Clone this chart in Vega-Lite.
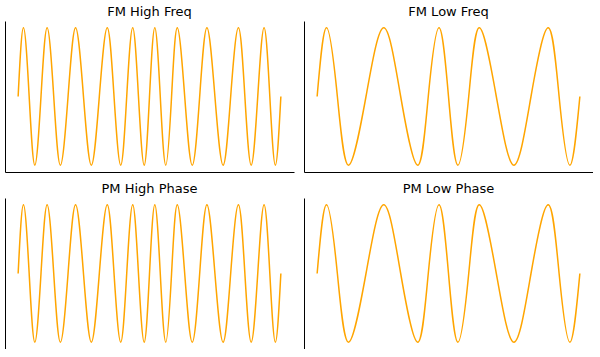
{
  "$schema": "https://vega.github.io/schema/vega-lite/v6.json",
  "padding": {"left": 5, "top": 6, "right": 0, "bottom": 0},
  "datasets": {
    "wave": [
      {"p": "FM High Freq", "t": 0, "y": 0},
      {"p": "FM High Freq", "t": 0.0202, "y": 1},
      {"p": "FM High Freq", "t": 0.042, "y": 0},
      {"p": "FM High Freq", "t": 0.0635, "y": -1},
      {"p": "FM High Freq", "t": 0.087, "y": 0},
      {"p": "FM High Freq", "t": 0.1103, "y": 1},
      {"p": "FM High Freq", "t": 0.1355, "y": 0},
      {"p": "FM High Freq", "t": 0.1608, "y": -1},
      {"p": "FM High Freq", "t": 0.19, "y": 0},
      {"p": "FM High Freq", "t": 0.2186, "y": 1},
      {"p": "FM High Freq", "t": 0.2487, "y": 0},
      {"p": "FM High Freq", "t": 0.2787, "y": -1},
      {"p": "FM High Freq", "t": 0.309, "y": 0},
      {"p": "FM High Freq", "t": 0.3392, "y": 1},
      {"p": "FM High Freq", "t": 0.365, "y": 0},
      {"p": "FM High Freq", "t": 0.3905, "y": -1},
      {"p": "FM High Freq", "t": 0.4133, "y": 0},
      {"p": "FM High Freq", "t": 0.4361, "y": 1},
      {"p": "FM High Freq", "t": 0.458, "y": 0},
      {"p": "FM High Freq", "t": 0.4798, "y": -1},
      {"p": "FM High Freq", "t": 0.5, "y": 0},
      {"p": "FM High Freq", "t": 0.5202, "y": 1},
      {"p": "FM High Freq", "t": 0.541, "y": 0},
      {"p": "FM High Freq", "t": 0.562, "y": -1},
      {"p": "FM High Freq", "t": 0.584, "y": 0},
      {"p": "FM High Freq", "t": 0.6057, "y": 1},
      {"p": "FM High Freq", "t": 0.634, "y": 0},
      {"p": "FM High Freq", "t": 0.6627, "y": -1},
      {"p": "FM High Freq", "t": 0.691, "y": 0},
      {"p": "FM High Freq", "t": 0.7186, "y": 1},
      {"p": "FM High Freq", "t": 0.749, "y": 0},
      {"p": "FM High Freq", "t": 0.7802, "y": -1},
      {"p": "FM High Freq", "t": 0.809, "y": 0},
      {"p": "FM High Freq", "t": 0.8384, "y": 1},
      {"p": "FM High Freq", "t": 0.863, "y": 0},
      {"p": "FM High Freq", "t": 0.8871, "y": -1},
      {"p": "FM High Freq", "t": 0.912, "y": 0},
      {"p": "FM High Freq", "t": 0.9361, "y": 1},
      {"p": "FM High Freq", "t": 0.958, "y": 0},
      {"p": "FM High Freq", "t": 0.9791, "y": -1},
      {"p": "FM High Freq", "t": 1, "y": 0},

      {"p": "FM Low Freq", "t": 0, "y": 0},
      {"p": "FM Low Freq", "t": 0.0357, "y": 1},
      {"p": "FM Low Freq", "t": 0.077, "y": 0},
      {"p": "FM Low Freq", "t": 0.1194, "y": -1},
      {"p": "FM Low Freq", "t": 0.186, "y": 0},
      {"p": "FM Low Freq", "t": 0.2536, "y": 1},
      {"p": "FM Low Freq", "t": 0.318, "y": 0},
      {"p": "FM Low Freq", "t": 0.3829, "y": -1},
      {"p": "FM Low Freq", "t": 0.423, "y": 0},
      {"p": "FM Low Freq", "t": 0.4639, "y": 1},
      {"p": "FM Low Freq", "t": 0.5, "y": 0},
      {"p": "FM Low Freq", "t": 0.5357, "y": -1},
      {"p": "FM Low Freq", "t": 0.577, "y": 0},
      {"p": "FM Low Freq", "t": 0.6171, "y": 1},
      {"p": "FM Low Freq", "t": 0.682, "y": 0},
      {"p": "FM Low Freq", "t": 0.749, "y": -1},
      {"p": "FM Low Freq", "t": 0.814, "y": 0},
      {"p": "FM Low Freq", "t": 0.8795, "y": 1},
      {"p": "FM Low Freq", "t": 0.921, "y": 0},
      {"p": "FM Low Freq", "t": 0.962, "y": -1},
      {"p": "FM Low Freq", "t": 1, "y": 0},

      {"p": "PM High Phase", "t": 0, "y": 0},
      {"p": "PM High Phase", "t": 0.0202, "y": 1},
      {"p": "PM High Phase", "t": 0.042, "y": 0},
      {"p": "PM High Phase", "t": 0.0635, "y": -1},
      {"p": "PM High Phase", "t": 0.087, "y": 0},
      {"p": "PM High Phase", "t": 0.1103, "y": 1},
      {"p": "PM High Phase", "t": 0.1355, "y": 0},
      {"p": "PM High Phase", "t": 0.1608, "y": -1},
      {"p": "PM High Phase", "t": 0.19, "y": 0},
      {"p": "PM High Phase", "t": 0.2186, "y": 1},
      {"p": "PM High Phase", "t": 0.2487, "y": 0},
      {"p": "PM High Phase", "t": 0.2787, "y": -1},
      {"p": "PM High Phase", "t": 0.309, "y": 0},
      {"p": "PM High Phase", "t": 0.3392, "y": 1},
      {"p": "PM High Phase", "t": 0.365, "y": 0},
      {"p": "PM High Phase", "t": 0.3905, "y": -1},
      {"p": "PM High Phase", "t": 0.4133, "y": 0},
      {"p": "PM High Phase", "t": 0.4361, "y": 1},
      {"p": "PM High Phase", "t": 0.458, "y": 0},
      {"p": "PM High Phase", "t": 0.4798, "y": -1},
      {"p": "PM High Phase", "t": 0.5, "y": 0},
      {"p": "PM High Phase", "t": 0.5202, "y": 1},
      {"p": "PM High Phase", "t": 0.541, "y": 0},
      {"p": "PM High Phase", "t": 0.562, "y": -1},
      {"p": "PM High Phase", "t": 0.584, "y": 0},
      {"p": "PM High Phase", "t": 0.6057, "y": 1},
      {"p": "PM High Phase", "t": 0.634, "y": 0},
      {"p": "PM High Phase", "t": 0.6627, "y": -1},
      {"p": "PM High Phase", "t": 0.691, "y": 0},
      {"p": "PM High Phase", "t": 0.7186, "y": 1},
      {"p": "PM High Phase", "t": 0.749, "y": 0},
      {"p": "PM High Phase", "t": 0.7802, "y": -1},
      {"p": "PM High Phase", "t": 0.809, "y": 0},
      {"p": "PM High Phase", "t": 0.8384, "y": 1},
      {"p": "PM High Phase", "t": 0.863, "y": 0},
      {"p": "PM High Phase", "t": 0.8871, "y": -1},
      {"p": "PM High Phase", "t": 0.912, "y": 0},
      {"p": "PM High Phase", "t": 0.9361, "y": 1},
      {"p": "PM High Phase", "t": 0.958, "y": 0},
      {"p": "PM High Phase", "t": 0.9791, "y": -1},
      {"p": "PM High Phase", "t": 1, "y": 0},

      {"p": "PM Low Phase", "t": 0, "y": 0},
      {"p": "PM Low Phase", "t": 0.0357, "y": 1},
      {"p": "PM Low Phase", "t": 0.077, "y": 0},
      {"p": "PM Low Phase", "t": 0.1194, "y": -1},
      {"p": "PM Low Phase", "t": 0.186, "y": 0},
      {"p": "PM Low Phase", "t": 0.2536, "y": 1},
      {"p": "PM Low Phase", "t": 0.318, "y": 0},
      {"p": "PM Low Phase", "t": 0.3829, "y": -1},
      {"p": "PM Low Phase", "t": 0.423, "y": 0},
      {"p": "PM Low Phase", "t": 0.4639, "y": 1},
      {"p": "PM Low Phase", "t": 0.5, "y": 0},
      {"p": "PM Low Phase", "t": 0.5357, "y": -1},
      {"p": "PM Low Phase", "t": 0.577, "y": 0},
      {"p": "PM Low Phase", "t": 0.6171, "y": 1},
      {"p": "PM Low Phase", "t": 0.682, "y": 0},
      {"p": "PM Low Phase", "t": 0.749, "y": -1},
      {"p": "PM Low Phase", "t": 0.814, "y": 0},
      {"p": "PM Low Phase", "t": 0.8795, "y": 1},
      {"p": "PM Low Phase", "t": 0.921, "y": 0},
      {"p": "PM Low Phase", "t": 0.962, "y": -1},
      {"p": "PM Low Phase", "t": 1, "y": 0}
    ]
  },
  "data": {"name": "wave"},
  "columns": 2,
  "spacing": {"row": 11, "column": 10},
  "concat": [
    {
      "title": "FM High Freq",
      "transform": [{"filter": "datum.p == 'FM High Freq'"}],
      "width": 289, "height": 151,
      "mark": {"type": "line", "color": "#FFA500", "strokeWidth": 1.5, "interpolate": "natural"},
      "encoding": {
        "x": {"field": "t", "type": "quantitative", "scale": {"domain": [-0.05, 1.05], "nice": false, "zero": false}},
        "y": {"field": "y", "type": "quantitative", "scale": {"domain": [-1.1, 1.1], "nice": false, "zero": false}}
      }
    },
    {
      "title": "FM Low Freq",
      "transform": [{"filter": "datum.p == 'FM Low Freq'"}],
      "width": 289, "height": 151,
      "mark": {"type": "line", "color": "#FFA500", "strokeWidth": 1.5, "interpolate": "natural"},
      "encoding": {
        "x": {"field": "t", "type": "quantitative", "scale": {"domain": [-0.05, 1.05], "nice": false, "zero": false}},
        "y": {"field": "y", "type": "quantitative", "scale": {"domain": [-1.1, 1.1], "nice": false, "zero": false}}
      }
    },
    {
      "title": "PM High Phase",
      "transform": [{"filter": "datum.p == 'PM High Phase'"}],
      "width": 289, "height": 151,
      "mark": {"type": "line", "color": "#FFA500", "strokeWidth": 1.5, "interpolate": "natural"},
      "encoding": {
        "x": {"field": "t", "type": "quantitative", "scale": {"domain": [-0.05, 1.05], "nice": false, "zero": false}},
        "y": {"field": "y", "type": "quantitative", "scale": {"domain": [-1.1, 1.1], "nice": false, "zero": false}}
      }
    },
    {
      "title": "PM Low Phase",
      "transform": [{"filter": "datum.p == 'PM Low Phase'"}],
      "width": 289, "height": 151,
      "mark": {"type": "line", "color": "#FFA500", "strokeWidth": 1.5, "interpolate": "natural"},
      "encoding": {
        "x": {"field": "t", "type": "quantitative", "scale": {"domain": [-0.05, 1.05], "nice": false, "zero": false}},
        "y": {"field": "y", "type": "quantitative", "scale": {"domain": [-1.1, 1.1], "nice": false, "zero": false}}
      }
    }
  ],
  "config": {
    "view": {"stroke": null},
    "axis": {"labels": false, "ticks": false, "grid": false, "title": null, "domainColor": "black", "domainWidth": 1},
    "title": {"font": "DejaVu Sans", "fontSize": 13, "fontWeight": "normal", "color": "black", "offset": 2}
  }
}
